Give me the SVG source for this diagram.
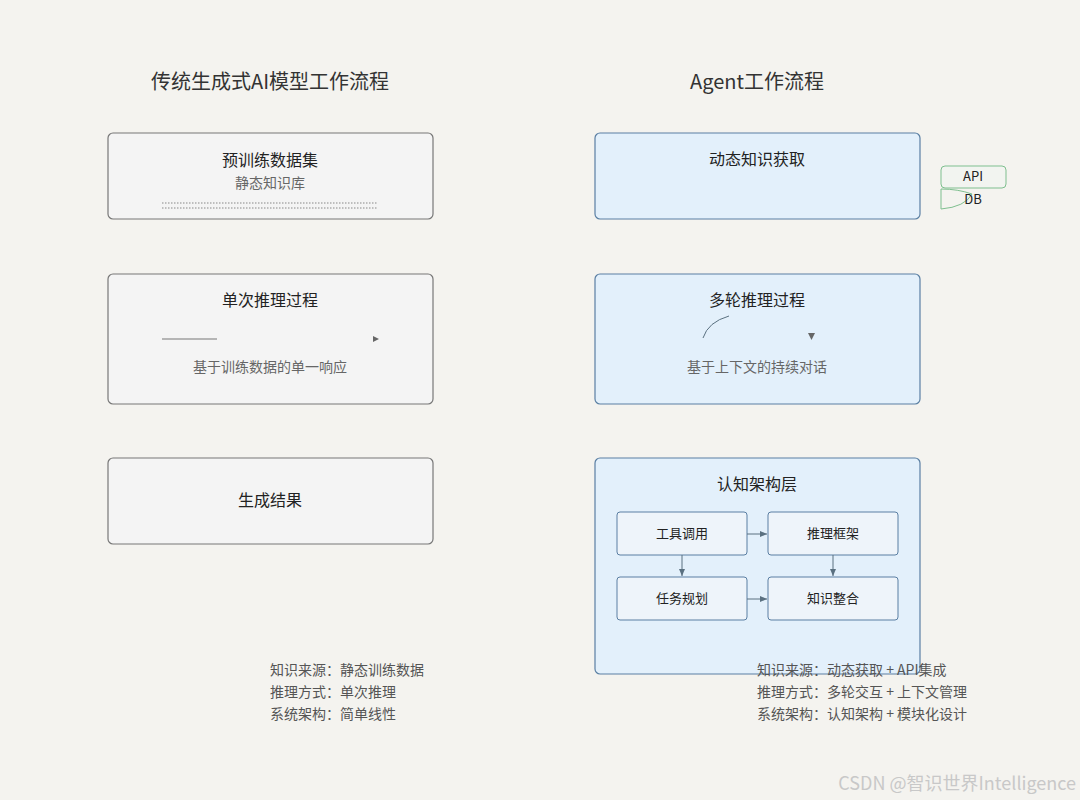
<svg xmlns="http://www.w3.org/2000/svg" width="1080" height="800" viewBox="0 0 1080 800">
<defs>
<style>
text{font-family:"Noto Sans CJK SC","Noto Sans",sans-serif;}
.t{font-size:20px;fill:#333;text-anchor:middle}
.h{font-size:16px;fill:#222;text-anchor:middle}
.s{font-size:14px;fill:#666;text-anchor:middle}
.n{font-size:13px;fill:#222;text-anchor:middle}
.f{font-size:14px;fill:#555}
.g{fill:#f4f4f4;stroke:#777;stroke-width:1.2}
.b{fill:#e3f0fb;stroke:#5a7fa3;stroke-width:1.2}
.w{fill:#eef4fa;stroke:#5a7fa3;stroke-width:1}
.c{stroke:#5a7080;stroke-width:1;fill:none}
</style>
<marker id="a" markerWidth="8" markerHeight="8" refX="7" refY="4" orient="auto" markerUnits="userSpaceOnUse"><path d="M0,1 L7,4 L0,7z" fill="#5a7080"/></marker>
</defs>
<rect width="1080" height="800" fill="#f4f3ef"/>
<text class="t" x="270" y="89">传统生成式AI模型工作流程</text>
<text class="t" x="757" y="89">Agent工作流程</text>
<g id="pretrain"><rect class="g" x="108" y="133" width="325" height="86" rx="5"/>
<text class="h" x="270" y="166">预训练数据集</text><text class="s" x="270" y="188">静态知识库</text>
<line x1="162" y1="203" x2="377" y2="203" stroke="#888" stroke-dasharray="1.5 1.5"/>
<line x1="162" y1="208" x2="377" y2="208" stroke="#888" stroke-dasharray="1.5 1.5"/></g>
<g id="single"><rect class="g" x="108" y="274" width="325" height="130" rx="5"/>
<text class="h" x="270" y="306">单次推理过程</text>
<line x1="162" y1="339" x2="217" y2="339" stroke="#777"/>
<path d="M373,336 L379,339 L373,342z" fill="#666"/>
<text class="s" x="270" y="372">基于训练数据的单一响应</text></g>
<g id="result"><rect class="g" x="108" y="458" width="325" height="86" rx="5"/>
<text class="h" x="270" y="506">生成结果</text></g>
<g id="dyn"><rect class="b" x="595" y="133" width="325" height="86" rx="5"/>
<text class="h" x="757" y="165">动态知识获取</text></g>
<g id="api"><rect x="941" y="166" width="65" height="22" rx="4" fill="#f2f4f0" stroke="#7fbf8f"/>
<text class="n" x="973" y="181" font-size="12">API</text>
<path d="M941,189 L941,209 Q965,207 972,194 Q958,189 941,189" fill="none" stroke="#7fbf8f"/>
<text class="n" x="973" y="204" font-size="12">DB</text></g>
<g id="multi"><rect class="b" x="595" y="274" width="325" height="130" rx="5"/>
<text class="h" x="757" y="306">多轮推理过程</text>
<path d="M703,338 Q708,322 729,316" fill="none" stroke="#5a7080"/>
<path d="M808,333 L815,333 L811.5,340z" fill="#666"/>
<text class="s" x="757" y="372">基于上下文的持续对话</text></g>
<g id="cog"><rect class="b" x="595" y="458" width="325" height="216" rx="5"/>
<text class="h" x="757" y="490">认知架构层</text></g>
<g id="tool"><rect class="w" x="617" y="512" width="130" height="43" rx="3"/><text class="n" x="682" y="538">工具调用</text></g>
<g id="reason"><rect class="w" x="768" y="512" width="130" height="43" rx="3"/><text class="n" x="833" y="538">推理框架</text></g>
<g id="plan"><rect class="w" x="617" y="577" width="130" height="43" rx="3"/><text class="n" x="682" y="603">任务规划</text></g>
<g id="know"><rect class="w" x="768" y="577" width="130" height="43" rx="3"/><text class="n" x="833" y="603">知识整合</text></g>
<g id="connectors">
<line class="c" x1="747" y1="534" x2="767" y2="534" marker-end="url(#a)"/>
<line class="c" x1="747" y1="599" x2="767" y2="599" marker-end="url(#a)"/>
<line class="c" x1="682" y1="555" x2="682" y2="576" marker-end="url(#a)"/>
<line class="c" x1="833" y1="555" x2="833" y2="576" marker-end="url(#a)"/>
</g>
<g id="notes">
<text class="f" x="270" y="675">知识来源：静态训练数据</text>
<text class="f" x="270" y="697">推理方式：单次推理</text>
<text class="f" x="270" y="719">系统架构：简单线性</text>
<text class="f" x="757" y="675" xml:space="preserve">知识来源：动态获取 + API集成</text>
<text class="f" x="757" y="697" xml:space="preserve">推理方式：多轮交互 + 上下文管理</text>
<text class="f" x="757" y="719" xml:space="preserve">系统架构：认知架构 + 模块化设计</text>
</g>
<text x="1076" y="790" text-anchor="end" font-size="18" fill="#c8c8c8">CSDN @智识世界Intelligence</text>
</svg>
